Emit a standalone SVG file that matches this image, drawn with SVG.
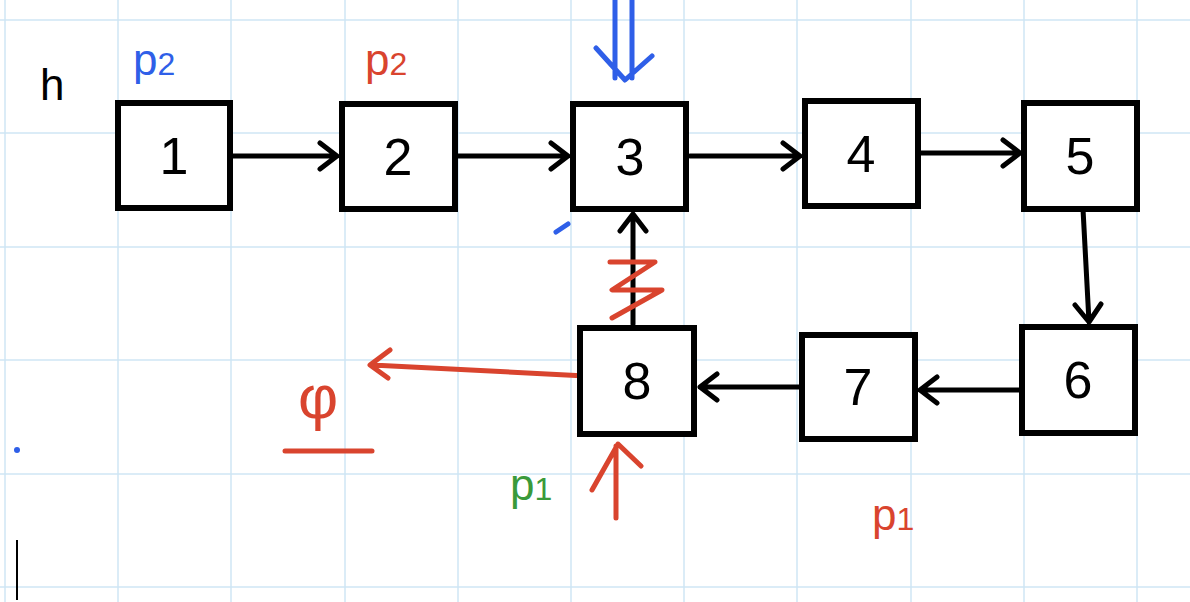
<svg xmlns="http://www.w3.org/2000/svg" width="1190" height="602" viewBox="0 0 1190 602">
<style>
.g{stroke:#cfe6f5;stroke-width:1.5}
.box{fill:#fff;stroke:#000;stroke-width:6}
.num{font-family:"Liberation Sans",sans-serif;font-size:52px;text-anchor:middle;fill:#000}
.c{stroke:#000;stroke-width:5;fill:none;stroke-linecap:round;stroke-linejoin:round}
.r{stroke:#d9442e;stroke-width:5;fill:none;stroke-linecap:round;stroke-linejoin:round}
.b{stroke:#2f5fe8;stroke-width:5;fill:none;stroke-linecap:round;stroke-linejoin:round}
.lbl{font-family:"Liberation Sans",sans-serif;font-size:44px}
</style>
<rect width="1190" height="602" fill="#fff"/>
<g id="grid">
<path class="g" d="M5 0V602M118 0V602M231 0V602M345 0V602M458 0V602M571 0V602M684 0V602M797 0V602M911 0V602M1024 0V602M1137 0V602M0 20H1190M0 133H1190M0 247H1190M0 360H1190M0 474H1190M0 587H1190"/>
</g>
<g id="connectors">
<path class="c" d="M230 156H337M320 143L337 156L320 169"/>
<path class="c" d="M455 156H568M551 143L568 156L551 169"/>
<path class="c" d="M690 156H800M783 143L800 156L783 169"/>
<path class="c" d="M918 153H1020M1003 140L1020 153L1003 166"/>
<path class="c" d="M1083 209L1089 322M1075 305L1089 322L1101 304"/>
<path class="c" d="M1020 390H920M937 377L920 390L937 403"/>
<path class="c" d="M800 387H700M717 374L700 387L717 400"/>
<path class="c" d="M633 324V214M620 231L633 214L646 231"/>
<path class="r" d="M605 377L372 365M390 350L370 365L388 378"/>
</g>
<g id="n1"><rect class="box" x="118" y="103" width="112" height="105"/><text class="num" x="174" y="174">1</text></g>
<g id="n2"><rect class="box" x="342" y="104" width="113" height="105"/><text class="num" x="398" y="175">2</text></g>
<g id="n3"><rect class="box" x="573" y="104" width="113" height="105"/><text class="num" x="630" y="175">3</text></g>
<g id="n4"><rect class="box" x="805" y="101" width="113" height="105"/><text class="num" x="861" y="172">4</text></g>
<g id="n5"><rect class="box" x="1024" y="103" width="113" height="106"/><text class="num" x="1080" y="174">5</text></g>
<g id="n6"><rect class="box" x="1022" y="327" width="113" height="106"/><text class="num" x="1078" y="398">6</text></g>
<g id="n7"><rect class="box" x="802" y="335" width="113" height="104"/><text class="num" x="858" y="405">7</text></g>
<g id="n8"><rect class="box" x="580" y="328" width="114" height="106"/><text class="num" x="637" y="399">8</text></g>
<g id="marks">
<text class="lbl" x="40" y="100" fill="#000">h</text>
<text class="lbl" x="133" y="75" fill="#2f5fe8">p<tspan font-size="32">2</tspan></text>
<text class="lbl" x="365" y="75" fill="#d9442e">p<tspan font-size="32">2</tspan></text>
<text class="lbl" x="510" y="500" fill="#3a9a3a">p<tspan font-size="32">1</tspan></text>
<text class="lbl" x="872" y="530" fill="#d9442e">p<tspan font-size="32">1</tspan></text>
<text x="318" y="418" font-family="Liberation Sans,sans-serif" font-size="62" fill="#d9442e" text-anchor="middle">φ</text>
<path class="r" d="M285 451H372"/>
<path class="r" d="M610 262L655 262L612 290L662 290L612 318"/>
<path class="r" d="M616 518V446M592 490L618 444L641 466"/>
<path class="b" d="M615 0V78M632 0V78M596 48L625 80L652 56"/>
<path class="b" d="M556 232L568 224"/>
<circle cx="17" cy="450" r="3" fill="#2f5fe8"/>
<path d="M17 540V600" stroke="#000" stroke-width="2"/>
</g>
</svg>
